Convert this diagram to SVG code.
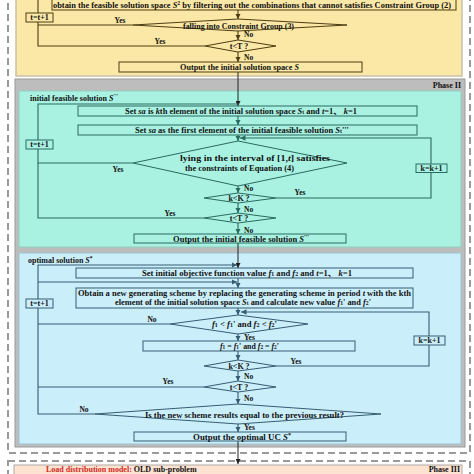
<svg xmlns="http://www.w3.org/2000/svg" width="474" height="474" viewBox="0 0 474 474">
<style>
text{font-family:"Liberation Serif","Times New Roman","Noto Sans CJK SC",serif;font-weight:bold;font-size:8px;fill:#111}
.c{text-anchor:middle}
.s{font-size:7.5px}
.i{font-style:italic}
.sub{font-size:5.5px}
.ly{stroke:#4d3d12;stroke-width:1.1;fill:none}
.lc{stroke:#2b6a60;stroke-width:1.1;fill:none}
.lb{stroke:#355d72;stroke-width:1.1;fill:none}
.ny{fill:#fbe8a6;stroke:#4d3d12;stroke-width:1}
.nc{fill:#a9f2e2;stroke:#2b6a60;stroke-width:1}
.nb{fill:#cbeefb;stroke:#355d72;stroke-width:1}
.dash{fill:none;stroke:#9a9a9a;stroke-width:2;stroke-dasharray:7 4}
</style>
<defs>
<marker id="ay" viewBox="0 0 6 6" refX="6" refY="3" markerWidth="5" markerHeight="5" orient="auto"><path d="M0,0L6,3L0,6z" fill="#4d3d12"/></marker>
<marker id="ac" viewBox="0 0 6 6" refX="6" refY="3" markerWidth="5" markerHeight="5" orient="auto"><path d="M0,0L6,3L0,6z" fill="#2b6a60"/></marker>
<marker id="ab" viewBox="0 0 6 6" refX="6" refY="3" markerWidth="5" markerHeight="5" orient="auto"><path d="M0,0L6,3L0,6z" fill="#355d72"/></marker>
<marker id="ak" viewBox="0 0 6 6" refX="6" refY="3" markerWidth="5" markerHeight="5" orient="auto"><path d="M0,0L6,3L0,6z" fill="#222"/></marker>
</defs>
<rect x="0" y="0" width="474" height="474" fill="#ffffff"/>
<g id="frames">
<rect class="dash" x="8" y="-6" width="462" height="459"/>
<rect class="dash" x="8" y="461" width="462" height="30"/>
<rect id="phase1-panel" x="16" y="-3" width="446" height="79" fill="#fbe8a6" stroke="#c9c2a8" stroke-width="1.5"/>
<rect id="phase2-frame" x="15" y="79" width="450" height="368" fill="#bdbdbd" stroke="#9a9a9a" stroke-width="1"/>
<text x="461" y="88" text-anchor="end">Phase II</text>
<rect id="panel-feasible" x="19" y="91" width="442" height="156" fill="#a9f2e2" stroke="#8fcfc0" stroke-width="1"/>
<rect id="panel-optimal" x="19" y="253" width="442" height="191" fill="#cbeefb" stroke="#9cc4d4" stroke-width="1"/>
<rect id="phase3-panel" x="14" y="465" width="448" height="15" fill="#fde3d2" stroke="#b0a8a4" stroke-width="1"/>
<text x="460" y="472" text-anchor="end" font-size="7.5">Phase III</text>
<text x="46" y="472" font-size="7.5"><tspan fill="#d42a1e">Load distribution model:</tspan> OLD sub-problem</text>
<text x="30" y="101">initial feasible solution <tspan class="i">S</tspan><tspan font-size="5.5" dy="-3">'''</tspan></text>
<text x="28" y="263">optimal solution <tspan class="i">S</tspan><tspan font-size="5.5" dy="-3">*</tspan></text>
</g>
<g id="connectors">
<line class="ly" x1="238" y1="10" x2="238" y2="19" marker-end="url(#ay)"/>
<polyline class="ly" points="133,25 38,25"/>
<polyline class="ly" points="205,46 38,46 38,-4"/>
<line class="ly" x1="238" y1="31" x2="238" y2="40" marker-end="url(#ay)"/>
<line class="ly" x1="238" y1="52" x2="238" y2="62" marker-end="url(#ay)"/>
<line stroke="#222" stroke-width="1" x1="238" y1="72" x2="238" y2="106" marker-end="url(#ak)"/>
<polyline class="lc" points="204,218 38,218 38,104 238,104"/>
<line class="lc" x1="133" y1="163" x2="38" y2="163"/>
<line class="lc" x1="238" y1="116" x2="238" y2="125" marker-end="url(#ac)"/>
<line class="lc" x1="238" y1="135" x2="238" y2="141" marker-end="url(#ac)"/>
<polyline class="lc" points="276,198 431,198 431,138 240,138" marker-end="url(#ac)"/>
<line class="lc" x1="238" y1="186" x2="238" y2="193" marker-end="url(#ac)"/>
<line class="lc" x1="238" y1="203" x2="238" y2="213" marker-end="url(#ac)"/>
<line class="lc" x1="238" y1="223" x2="238" y2="234" marker-end="url(#ac)"/>
<line stroke="#222" stroke-width="1" x1="238" y1="243" x2="238" y2="268" marker-end="url(#ak)"/>
<polyline class="lb" points="95,414 38,414 38,265 237,265" marker-end="url(#ab)"/>
<line class="lb" x1="38" y1="282" x2="237" y2="282" marker-end="url(#ab)"/>
<line class="lb" x1="170" y1="324" x2="38" y2="324"/>
<line class="lb" x1="204" y1="387" x2="38" y2="387"/>
<line class="lb" x1="238" y1="278" x2="238" y2="288" marker-end="url(#ab)"/>
<line class="lb" x1="238" y1="308" x2="238" y2="315" marker-end="url(#ab)"/>
<polyline class="lb" points="276,366 429,366 429,312 241,312" marker-end="url(#ab)"/>
<line class="lb" x1="238" y1="334" x2="238" y2="341" marker-end="url(#ab)"/>
<line class="lb" x1="238" y1="351" x2="238" y2="360" marker-end="url(#ab)"/>
<line class="lb" x1="238" y1="371" x2="238" y2="381" marker-end="url(#ab)"/>
<line class="lb" x1="238" y1="392" x2="238" y2="404" marker-end="url(#ab)"/>
<line class="lb" x1="238" y1="424" x2="238" y2="432" marker-end="url(#ab)"/>
<line stroke="#222" stroke-width="1" x1="238" y1="441" x2="238" y2="464" marker-end="url(#ak)"/>
<text class="s c" x="120" y="23">Yes</text>
<text class="s c" x="160" y="44">Yes</text>
<text class="s" x="244" y="37">No</text>
<text class="s" x="244" y="60">No</text>
<text class="s c" x="118" y="172">Yes</text>
<text class="s" x="244" y="191">No</text>
<text class="s c" x="300" y="195">Yes</text>
<text class="s" x="244" y="211.5">No</text>
<text class="s c" x="170" y="216">Yes</text>
<text class="s" x="244" y="232.5">No</text>
<text class="s c" x="152" y="322">No</text>
<text class="s" x="244" y="339.5">Yes</text>
<text class="s c" x="296" y="364">Yes</text>
<text class="s" x="244" y="379">No</text>
<text class="s c" x="168" y="384">Yes</text>
<text class="s" x="244" y="401">No</text>
<text class="s c" x="84" y="412">No</text>
<text class="s" x="244" y="430">Yes</text>
</g>
<g id="n-filter"><rect class="ny" x="52" y="-3" width="404" height="13"/><text x="53" y="7.5" textLength="398" lengthAdjust="spacingAndGlyphs">obtain the feasible solution space <tspan class="i">S</tspan><tspan font-size="5.5" dy="-3">2</tspan><tspan dy="3"> by filtering out the combinations that cannot satisfies Constraint Group (2)</tspan></text></g>
<g id="n-t1"><rect class="ny" x="26" y="13" width="27" height="9"/><text class="c" x="39.5" y="20" font-size="7">t=t+1</text></g>
<g id="n-group3"><polygon class="ny" points="133,25 238,19 347,25 238,31"/><text x="183" y="28.5" textLength="111" lengthAdjust="spacingAndGlyphs">falling into Constraint Group (3)</text></g>
<g id="n-tT1"><polygon class="ny" points="205,46 238,40 276,46 238,52"/><text class="c" x="239" y="49">t&lt;T ?</text></g>
<g id="n-out1"><rect class="ny" x="119" y="62" width="243" height="10"/><text x="180" y="70" textLength="119" lengthAdjust="spacingAndGlyphs">Output the initial solution space <tspan class="i">S</tspan></text></g>
<g id="n-setk"><rect class="nc" x="78" y="106" width="339" height="10"/><text x="125" y="113.5" textLength="232" lengthAdjust="spacingAndGlyphs">Set <tspan class="i">sa</tspan> is <tspan class="i">k</tspan>th element of the initial solution space <tspan class="i">S</tspan><tspan class="sub">t</tspan> and  <tspan class="i">t</tspan>=1、 <tspan class="i">k</tspan>=1</text></g>
<g id="n-setfirst"><rect class="nc" x="78" y="125" width="339" height="10"/><text x="135" y="132.5" textLength="214" lengthAdjust="spacingAndGlyphs">Set <tspan class="i">sa</tspan> as the first element of the initial feasible solution <tspan class="i">S</tspan><tspan class="sub">t</tspan>'''</text></g>
<g id="n-t2"><rect class="nc" x="26" y="140" width="27" height="9"/><text class="c" x="39.5" y="147" font-size="7">t=t+1</text></g>
<g id="n-eq4"><polygon class="nc" points="133,163 238,141 347,163 238,186"/><text x="180" y="161" textLength="150" lengthAdjust="spacingAndGlyphs">lying in the interval of [1,<tspan class="i">t</tspan>] satisfies</text><text x="185" y="170.5" textLength="109" lengthAdjust="spacingAndGlyphs">the constraints of Equation (4)</text></g>
<g id="n-k1"><rect class="nc" x="416" y="164" width="31" height="8.5"/><text class="c" x="431.5" y="171" font-size="7">k=k+1</text></g>
<g id="n-kK1"><polygon class="nc" points="204,198 238,193 276,198 238,203"/><text class="c" x="239" y="200.5">k&lt;K ?</text></g>
<g id="n-tT2"><polygon class="nc" points="204,218 238,213 276,218 238,223"/><text class="c" x="239" y="220.5">t&lt;T ?</text></g>
<g id="n-out2"><rect class="nc" x="134" y="234" width="212" height="9"/><text x="173" y="241.5" textLength="136" lengthAdjust="spacingAndGlyphs">Output the initial feasible solution <tspan class="i">S</tspan><tspan font-size="5.5" dy="-3">'''</tspan></text></g>
<g id="n-setobj"><rect class="nb" x="76" y="268" width="337" height="10"/><text x="142" y="275.8" textLength="210" lengthAdjust="spacingAndGlyphs">Set  initial objective function value <tspan class="i">f</tspan><tspan class="sub">1</tspan> and <tspan class="i">f</tspan><tspan class="sub">2</tspan> and  <tspan class="i">t</tspan>=1、 <tspan class="i">k</tspan>=1</text></g>
<g id="n-t3"><rect class="nb" x="26" y="299" width="27" height="9"/><text class="c" x="39.5" y="306" font-size="7">t=t+1</text></g>
<g id="n-newscheme"><rect class="nb" x="76" y="288" width="337" height="20"/><text x="78" y="295.8" textLength="333" lengthAdjust="spacingAndGlyphs">Obtain a new generating scheme by replacing the generating scheme in period <tspan class="i">t</tspan> with the kth</text><text x="115" y="305" textLength="256" lengthAdjust="spacingAndGlyphs">element of the initial solution space <tspan class="i">S</tspan><tspan class="sub">t</tspan> and calculate new value <tspan class="i">f</tspan><tspan class="sub">1</tspan>' and <tspan class="i">f</tspan><tspan class="sub">2</tspan>'</text></g>
<g id="n-fcmp"><polygon class="nb" points="170,324 238,315 308,324 238,334"/><text x="212" y="327" textLength="65" lengthAdjust="spacingAndGlyphs"><tspan class="i">f</tspan><tspan class="sub">1</tspan> &lt; <tspan class="i">f</tspan><tspan class="sub">1</tspan>' and  <tspan class="i">f</tspan><tspan class="sub">2</tspan> &lt; <tspan class="i">f</tspan><tspan class="sub">2</tspan>'</text></g>
<g id="n-fset"><rect class="nb" x="143" y="341" width="212" height="10"/><text x="220" y="349" textLength="59" lengthAdjust="spacingAndGlyphs"><tspan class="i">f</tspan><tspan class="sub">1</tspan> = <tspan class="i">f</tspan><tspan class="sub">1</tspan>' and  <tspan class="i">f</tspan><tspan class="sub">2</tspan> = <tspan class="i">f</tspan><tspan class="sub">2</tspan>'</text></g>
<g id="n-k2"><rect class="nb" x="414" y="336" width="31" height="9"/><text class="c" x="429.5" y="343" font-size="7">k=k+1</text></g>
<g id="n-kK2"><polygon class="nb" points="204,366 238,360 276,366 238,371"/><text class="c" x="239" y="368.5">k&lt;K ?</text></g>
<g id="n-tT3"><polygon class="nb" points="204,387 238,381 276,387 238,392"/><text class="c" x="239" y="389.5">t&lt;T ?</text></g>
<g id="n-equal"><polygon class="nb" points="95,414 238,404 381,414 238,424"/><text x="145" y="417.5" textLength="199" lengthAdjust="spacingAndGlyphs">Is the new scheme results equal to the previous result?</text></g>
<g id="n-out3"><rect class="nb" x="134" y="432" width="212" height="9"/><text x="193" y="439.5" textLength="98" lengthAdjust="spacingAndGlyphs">Output the optimal UC <tspan class="i">S</tspan><tspan font-size="5.5" dy="-3">*</tspan></text></g>
</svg>
